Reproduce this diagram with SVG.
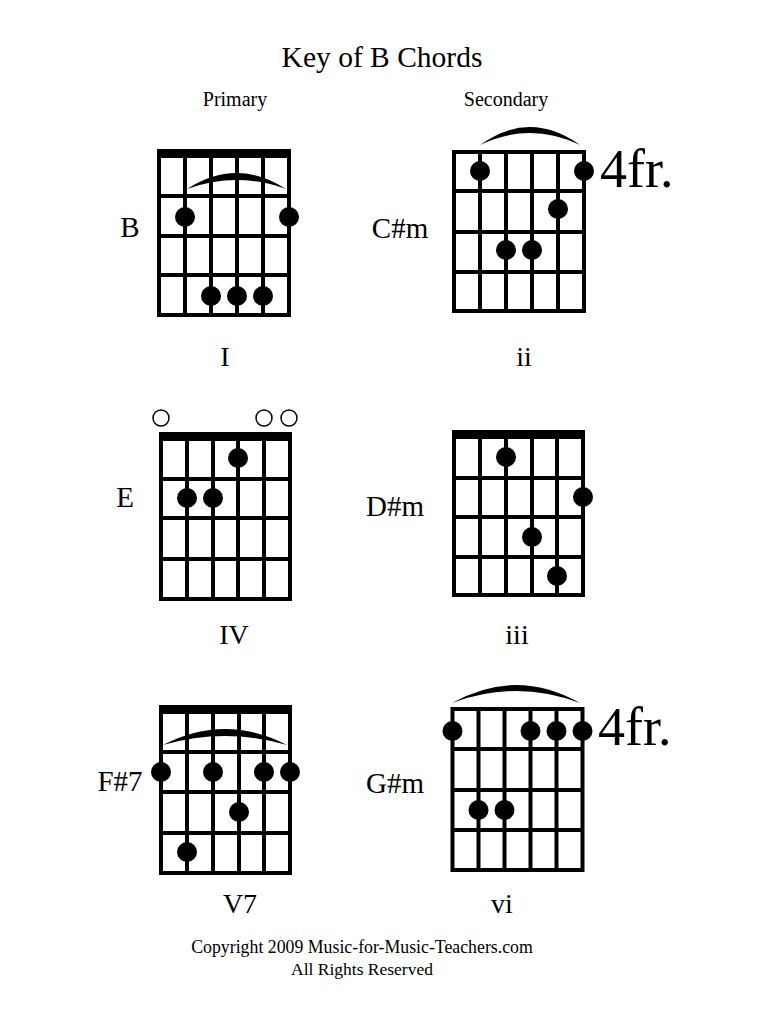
<svg xmlns="http://www.w3.org/2000/svg" width="768" height="1024" viewBox="0 0 768 1024">
<style>
.ln{stroke:#000;stroke-width:4;fill:none}
.nut{fill:#000}
.dot{fill:#000}
.open{fill:#fff;stroke:#000;stroke-width:1.5}
.t{font-family:"Liberation Serif","Times New Roman",serif;fill:#000;text-anchor:middle}
.name{font-size:29px}
.rn{font-size:28px}
.fr{font-family:"Liberation Serif","Times New Roman",serif;font-size:54px;fill:#000}
</style>
<rect width="768" height="1024" fill="#fff"/>
<text class="t" x="382" y="67" font-size="29.5">Key of B Chords</text>
<text class="t" x="235" y="106" font-size="20">Primary</text>
<text class="t" x="506" y="106" font-size="20">Secondary</text>

<g id="chord-B">
  <text class="t name" x="130" y="237">B</text>
  <rect class="nut" x="157" y="149" width="134" height="9"/>
  <path class="ln" d="M159,149V317M185,149V317M211,149V317M237,149V317M263,149V317M289,149V317M157,196H291M157,236H291M157,275H291M157,315H291"/>
  <path class="dot" d="M187,189Q236.5,157 286,189Q236.5,171 187,189Z"/>
  <circle class="dot" cx="185" cy="217" r="10"/>
  <circle class="dot" cx="289" cy="217" r="10"/>
  <circle class="dot" cx="211" cy="296" r="10"/>
  <circle class="dot" cx="237" cy="296" r="10"/>
  <circle class="dot" cx="263" cy="296" r="10"/>
  <text class="t rn" x="225" y="366">I</text>
</g>

<g id="chord-Csm">
  <text class="t name" x="400" y="238">C#m</text>
  <path class="ln" d="M454,150V313M480,150V313M506,150V313M532,150V313M558,150V313M584,150V313M452,152H586M452,191H586M452,232H586M452,272H586M452,311H586"/>
  <path class="dot" d="M480,145Q530,109 580,145Q530,121 480,145Z"/>
  <circle class="dot" cx="480" cy="171" r="10"/>
  <circle class="dot" cx="584" cy="171" r="10"/>
  <circle class="dot" cx="558" cy="209" r="10"/>
  <circle class="dot" cx="506" cy="250" r="10"/>
  <circle class="dot" cx="532" cy="250" r="10"/>
  <text class="fr" x="600" y="187">4fr.</text>
  <text class="t rn" x="524" y="366">ii</text>
</g>

<g id="chord-E">
  <text class="t name" x="125" y="507">E</text>
  <circle class="open" cx="161" cy="418" r="8"/>
  <circle class="open" cx="264" cy="418" r="8"/>
  <circle class="open" cx="289" cy="418" r="8"/>
  <rect class="nut" x="159" y="432" width="133" height="9"/>
  <path class="ln" d="M161,432V601M187,432V601M213,432V601M238,432V601M264,432V601M290,432V601M159,479H292M159,518H292M159,559H292M159,599H292"/>
  <circle class="dot" cx="238" cy="458" r="10"/>
  <circle class="dot" cx="187" cy="498" r="10"/>
  <circle class="dot" cx="213" cy="498" r="10"/>
  <text class="t rn" x="234" y="644">IV</text>
</g>

<g id="chord-Dsm">
  <text class="t name" x="395" y="516">D#m</text>
  <rect class="nut" x="452" y="430" width="133" height="9"/>
  <path class="ln" d="M454,430V597M480,430V597M506,430V597M532,430V597M557,430V597M583,430V597M452,478H585M452,517H585M452,557H585M452,595H585"/>
  <circle class="dot" cx="506" cy="457" r="10"/>
  <circle class="dot" cx="583" cy="497" r="10"/>
  <circle class="dot" cx="532" cy="537" r="10"/>
  <circle class="dot" cx="557" cy="576" r="10"/>
  <text class="t rn" x="517" y="644">iii</text>
</g>

<g id="chord-Fs7">
  <text class="t name" x="120" y="791">F#7</text>
  <rect class="nut" x="159" y="705" width="133" height="9"/>
  <path class="ln" d="M161,705V875M187,705V875M213,705V875M239,705V875M264,705V875M290,705V875M159,752H292M159,792H292M159,833H292M159,873H292"/>
  <path class="dot" d="M163,745Q225,713 287,745Q225,727 163,745Z"/>
  <circle class="dot" cx="161" cy="772" r="10"/>
  <circle class="dot" cx="213" cy="772" r="10"/>
  <circle class="dot" cx="264" cy="772" r="10"/>
  <circle class="dot" cx="290" cy="772" r="10"/>
  <circle class="dot" cx="239" cy="812" r="10"/>
  <circle class="dot" cx="187" cy="852" r="10"/>
  <text class="t rn" x="240" y="913">V7</text>
</g>

<g id="chord-Gsm">
  <text class="t name" x="395" y="793">G#m</text>
  <path class="ln" d="M452.5,707V872M478.5,707V872M504.5,707V872M530.5,707V872M556.5,707V872M582.5,707V872M450.5,709H584.5M450.5,749H584.5M450.5,790H584.5M450.5,830H584.5M450.5,870H584.5"/>
  <path class="dot" d="M452,703Q516,667 580,703Q516,679 452,703Z"/>
  <circle class="dot" cx="452.5" cy="731" r="10"/>
  <circle class="dot" cx="530.5" cy="731" r="10"/>
  <circle class="dot" cx="556.5" cy="731" r="10"/>
  <circle class="dot" cx="582.5" cy="731" r="10"/>
  <circle class="dot" cx="478.5" cy="810" r="10"/>
  <circle class="dot" cx="504.5" cy="810" r="10"/>
  <text class="fr" x="598" y="745">4fr.</text>
  <text class="t rn" x="502" y="913">vi</text>
</g>

<text class="t" x="362" y="953" font-size="17.8">Copyright 2009 Music-for-Music-Teachers.com</text>
<text class="t" x="362" y="975" font-size="17.5">All Rights Reserved</text>
</svg>
